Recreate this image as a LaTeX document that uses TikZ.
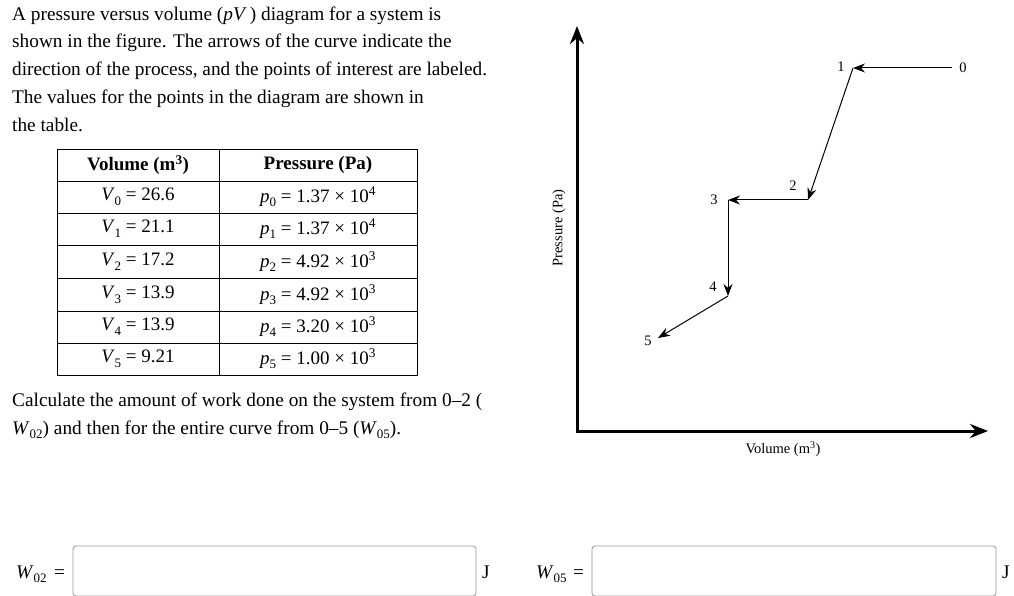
\documentclass[tikz,border=0pt]{standalone}
\usepackage{fontspec}
\setmainfont{Liberation Serif}
\usetikzlibrary{arrows.meta}
\newcommand{\iv}[2]{\textit{#1}\raisebox{-0.25em}{\fontsize{13}{14}\selectfont #2}}
\begin{document}
\begin{tikzpicture}[x=1pt,y=-1pt,
  txt/.style={anchor=base west,font=\fontsize{19.3}{22}\selectfont,inner sep=0},
  cell/.style={font=\fontsize{19}{22}\selectfont,inner sep=0},
  lbl/.style={font=\fontsize{14.5}{16}\selectfont,inner sep=0},
  proc/.style={line width=1pt,-{Stealth[length=12pt,width=9pt]}},
  axis/.style={line width=3pt,-{Stealth[length=18pt,width=14pt]}},
  ansbox/.style={draw=black!40,rounded corners=3pt,line width=0.8pt}]
\useasboundingbox (0,0) rectangle (1014,596);
% paragraph
\node[txt] (p1) at (12,21) {A pressure versus volume (\textit{pV}\,) diagram for a system is};
\node[txt] (p2) at (12,48) {shown in the figure. The arrows of the curve indicate the};
\node[txt] (p3) at (12,76) {direction of the process, and the points of interest are labeled.};
\node[txt] (p4) at (12,104) {The values for the points in the diagram are shown in};
\node[txt] (p5) at (12,132) {the table.};
% table
\draw[line width=0.7pt] (57,149) rectangle (417,375);
\draw[line width=0.7pt] (219,149) -- (219,375);
\foreach \y in {181,213,245,278,311,343} \draw[line width=0.7pt] (57,\y) -- (417,\y);
\node[cell] (h1) at (138,165) {\textbf{Volume (m\textsuperscript{3})}};
\node[cell] (h2) at (318,165) {\textbf{Pressure (Pa)}};
\node[cell] (v0) at (138,197) {\iv{V}{0} = 26.6};
\node[cell] (v1) at (138,229) {\iv{V}{1} = 21.1};
\node[cell] (v2) at (138,262) {\iv{V}{2} = 17.2};
\node[cell] (v3) at (138,295) {\iv{V}{3} = 13.9};
\node[cell] (v4) at (138,327) {\iv{V}{4} = 13.9};
\node[cell] (v5) at (138,359) {\iv{V}{5} = 9.21};
\node[cell] (q0) at (318,197) {\iv{p}{0} = 1.37 × 10\textsuperscript{4}};
\node[cell] (q1) at (318,229) {\iv{p}{1} = 1.37 × 10\textsuperscript{4}};
\node[cell] (q2) at (318,262) {\iv{p}{2} = 4.92 × 10\textsuperscript{3}};
\node[cell] (q3) at (318,295) {\iv{p}{3} = 4.92 × 10\textsuperscript{3}};
\node[cell] (q4) at (318,327) {\iv{p}{4} = 3.20 × 10\textsuperscript{3}};
\node[cell] (q5) at (318,359) {\iv{p}{5} = 1.00 × 10\textsuperscript{3}};
% question
\node[txt] (c1) at (12,406) {Calculate the amount of work done on the system from 0–2 (};
\node[txt] (c2) at (12,434) {\iv{W}{02}) and then for the entire curve from 0–5 (\iv{W}{05}).};
% answers
\node[txt] (w2) at (16,578) {\iv{W}{02}};
\node[txt] (e2) at (54,578) {=};
\draw[ansbox] (73,546) rectangle (476,596);
\node[txt] (j2) at (482,578) {J};
\node[txt] (w5) at (536,578) {\iv{W}{05}};
\node[txt] (e5) at (573,578) {=};
\draw[ansbox] (592,546) rectangle (996,596);
\node[txt] (j5) at (1002,578) {J};
% axes
\coordinate (O) at (577,431);
\coordinate (Yt) at (577,26);
\coordinate (Xt) at (988,431);
\draw[axis] (O) -- (Yt);
\draw[axis] (575.5,431) -- (Xt);
\node[lbl,rotate=90] (yl) at (559,228) {Pressure (Pa)};
\node[lbl] (xl) at (783,449) {Volume (m\textsuperscript{3})};
% process
\coordinate (P0) at (952,68);
\coordinate (P1) at (853,68);
\coordinate (P2) at (808,200);
\coordinate (P3) at (728,200);
\coordinate (P4) at (728,296);
\coordinate (P5) at (658,338);
\draw[proc] (P0) -- (P1);
\draw[proc] (P1) -- (P2);
\draw[proc] (P2) -- (P3);
\draw[proc] (P3) -- (P4);
\draw[proc] (P4) -- (P5);
\node[lbl] (l0) at (963,68) {0};
\node[lbl] (l1) at (841,67) {1};
\node[lbl] (l2) at (793,186) {2};
\node[lbl] (l3) at (714,200) {3};
\node[lbl] (l4) at (713,287) {4};
\node[lbl] (l5) at (648,341) {5};
\end{tikzpicture}
\end{document}
